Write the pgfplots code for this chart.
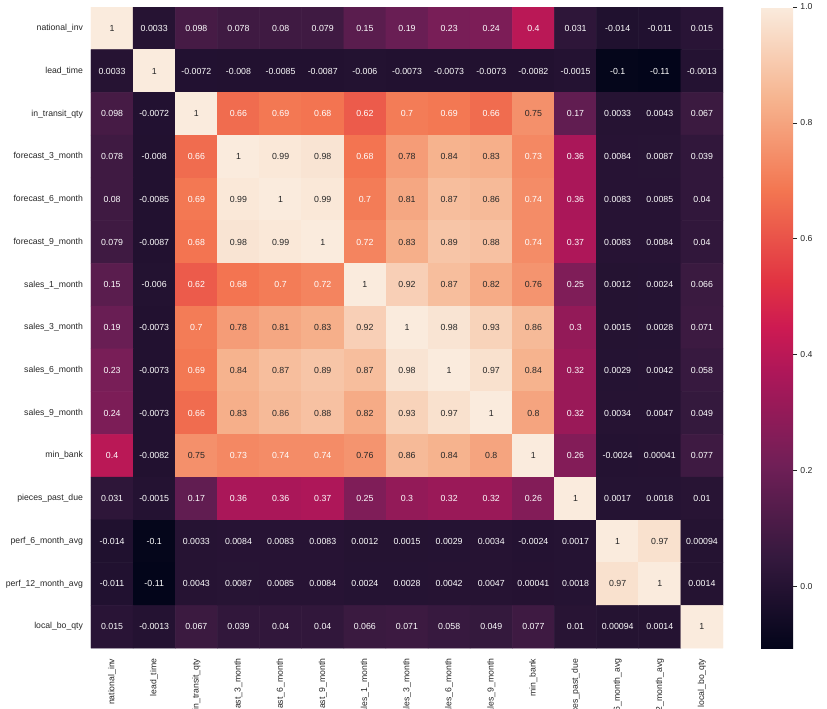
\documentclass[border=0pt]{standalone}
\usepackage{pgfplots}
\usepackage{pgfplotstable}
\pgfplotsset{compat=1.18}
\usepackage{fontspec}
\setmainfont{Liberation Sans}
\definecolor{txt}{HTML}{262626}
\pgfplotstableread[row sep=\\]{
x y v\\
0 0 1\\ 1 0 0.0033\\ 2 0 0.098\\ 3 0 0.078\\ 4 0 0.08\\ 5 0 0.079\\ 6 0 0.15\\ 7 0 0.19\\ 8 0 0.23\\ 9 0 0.24\\ 10 0 0.4\\ 11 0 0.031\\ 12 0 -0.014\\ 13 0 -0.011\\ 14 0 0.015\\
0 1 0.0033\\ 1 1 1\\ 2 1 -0.0072\\ 3 1 -0.008\\ 4 1 -0.0085\\ 5 1 -0.0087\\ 6 1 -0.006\\ 7 1 -0.0073\\ 8 1 -0.0073\\ 9 1 -0.0073\\ 10 1 -0.0082\\ 11 1 -0.0015\\ 12 1 -0.1\\ 13 1 -0.11\\ 14 1 -0.0013\\
0 2 0.098\\ 1 2 -0.0072\\ 2 2 1\\ 3 2 0.66\\ 4 2 0.69\\ 5 2 0.68\\ 6 2 0.62\\ 7 2 0.7\\ 8 2 0.69\\ 9 2 0.66\\ 10 2 0.75\\ 11 2 0.17\\ 12 2 0.0033\\ 13 2 0.0043\\ 14 2 0.067\\
0 3 0.078\\ 1 3 -0.008\\ 2 3 0.66\\ 3 3 1\\ 4 3 0.99\\ 5 3 0.98\\ 6 3 0.68\\ 7 3 0.78\\ 8 3 0.84\\ 9 3 0.83\\ 10 3 0.73\\ 11 3 0.36\\ 12 3 0.0084\\ 13 3 0.0087\\ 14 3 0.039\\
0 4 0.08\\ 1 4 -0.0085\\ 2 4 0.69\\ 3 4 0.99\\ 4 4 1\\ 5 4 0.99\\ 6 4 0.7\\ 7 4 0.81\\ 8 4 0.87\\ 9 4 0.86\\ 10 4 0.74\\ 11 4 0.36\\ 12 4 0.0083\\ 13 4 0.0085\\ 14 4 0.04\\
0 5 0.079\\ 1 5 -0.0087\\ 2 5 0.68\\ 3 5 0.98\\ 4 5 0.99\\ 5 5 1\\ 6 5 0.72\\ 7 5 0.83\\ 8 5 0.89\\ 9 5 0.88\\ 10 5 0.74\\ 11 5 0.37\\ 12 5 0.0083\\ 13 5 0.0084\\ 14 5 0.04\\
0 6 0.15\\ 1 6 -0.006\\ 2 6 0.62\\ 3 6 0.68\\ 4 6 0.7\\ 5 6 0.72\\ 6 6 1\\ 7 6 0.92\\ 8 6 0.87\\ 9 6 0.82\\ 10 6 0.76\\ 11 6 0.25\\ 12 6 0.0012\\ 13 6 0.0024\\ 14 6 0.066\\
0 7 0.19\\ 1 7 -0.0073\\ 2 7 0.7\\ 3 7 0.78\\ 4 7 0.81\\ 5 7 0.83\\ 6 7 0.92\\ 7 7 1\\ 8 7 0.98\\ 9 7 0.93\\ 10 7 0.86\\ 11 7 0.3\\ 12 7 0.0015\\ 13 7 0.0028\\ 14 7 0.071\\
0 8 0.23\\ 1 8 -0.0073\\ 2 8 0.69\\ 3 8 0.84\\ 4 8 0.87\\ 5 8 0.89\\ 6 8 0.87\\ 7 8 0.98\\ 8 8 1\\ 9 8 0.97\\ 10 8 0.84\\ 11 8 0.32\\ 12 8 0.0029\\ 13 8 0.0042\\ 14 8 0.058\\
0 9 0.24\\ 1 9 -0.0073\\ 2 9 0.66\\ 3 9 0.83\\ 4 9 0.86\\ 5 9 0.88\\ 6 9 0.82\\ 7 9 0.93\\ 8 9 0.97\\ 9 9 1\\ 10 9 0.8\\ 11 9 0.32\\ 12 9 0.0034\\ 13 9 0.0047\\ 14 9 0.049\\
0 10 0.4\\ 1 10 -0.0082\\ 2 10 0.75\\ 3 10 0.73\\ 4 10 0.74\\ 5 10 0.74\\ 6 10 0.76\\ 7 10 0.86\\ 8 10 0.84\\ 9 10 0.8\\ 10 10 1\\ 11 10 0.26\\ 12 10 -0.0024\\ 13 10 0.00041\\ 14 10 0.077\\
0 11 0.031\\ 1 11 -0.0015\\ 2 11 0.17\\ 3 11 0.36\\ 4 11 0.36\\ 5 11 0.37\\ 6 11 0.25\\ 7 11 0.3\\ 8 11 0.32\\ 9 11 0.32\\ 10 11 0.26\\ 11 11 1\\ 12 11 0.0017\\ 13 11 0.0018\\ 14 11 0.01\\
0 12 -0.014\\ 1 12 -0.1\\ 2 12 0.0033\\ 3 12 0.0084\\ 4 12 0.0083\\ 5 12 0.0083\\ 6 12 0.0012\\ 7 12 0.0015\\ 8 12 0.0029\\ 9 12 0.0034\\ 10 12 -0.0024\\ 11 12 0.0017\\ 12 12 1\\ 13 12 0.97\\ 14 12 0.00094\\
0 13 -0.011\\ 1 13 -0.11\\ 2 13 0.0043\\ 3 13 0.0087\\ 4 13 0.0085\\ 5 13 0.0084\\ 6 13 0.0024\\ 7 13 0.0028\\ 8 13 0.0042\\ 9 13 0.0047\\ 10 13 0.00041\\ 11 13 0.0018\\ 12 13 0.97\\ 13 13 1\\ 14 13 0.0014\\
0 14 0.015\\ 1 14 -0.0013\\ 2 14 0.067\\ 3 14 0.039\\ 4 14 0.04\\ 5 14 0.04\\ 6 14 0.066\\ 7 14 0.071\\ 8 14 0.058\\ 9 14 0.049\\ 10 14 0.077\\ 11 14 0.01\\ 12 14 0.00094\\ 13 14 0.0014\\ 14 14 1\\
}\corr
\begin{document}
\begin{tikzpicture}
\begin{axis}[
  name=main,
  at={(0,0)}, anchor=south west,
  scale only axis,
  width=474pt, height=480.75pt,
  xmin=-0.5, xmax=14.5, ymin=-0.5, ymax=14.5,
  enlargelimits=false,
  y dir=reverse,
  axis line style={draw=none},
  major tick length=0pt,
  tick style={draw=none},
  xtick={0,...,14}, ytick={0,...,14},
  xticklabels={national\_inv,lead\_time,in\_transit\_qty,forecast\_3\_month,forecast\_6\_month,forecast\_9\_month,sales\_1\_month,sales\_3\_month,sales\_6\_month,sales\_9\_month,min\_bank,pieces\_past\_due,perf\_6\_month\_avg,perf\_12\_month\_avg,local\_bo\_qty},
  yticklabels={national\_inv,lead\_time,in\_transit\_qty,forecast\_3\_month,forecast\_6\_month,forecast\_9\_month,sales\_1\_month,sales\_3\_month,sales\_6\_month,sales\_9\_month,min\_bank,pieces\_past\_due,perf\_6\_month\_avg,perf\_12\_month\_avg,local\_bo\_qty},
  xticklabel style={font=\fontsize{6.5}{7.5}\selectfont, text=txt, yshift=-4.5pt, rotate=90, anchor=east},
  yticklabel style={font=\fontsize{6.5}{7.5}\selectfont, text=txt, xshift=-2.5pt},
  colormap={rocket}{
    rgb255(0)=(3,5,26) rgb255(1)=(53,25,62) rgb255(2)=(112,31,87)
    rgb255(3)=(173,23,89) rgb255(3.5)=(205,26,82) rgb255(4)=(225,51,66)
    rgb255(5)=(243,118,81) rgb255(6)=(246,180,143) rgb255(7)=(250,235,221)},
  point meta min=-0.106, point meta max=1,
  colorbar,
  colorbar/width=24pt,
  colorbar style={
    at={(parent axis.north east)}, anchor=north west, xshift=20pt,
    scale only axis=true,
    height=480.75pt,
    ytick={0,0.2,0.4,0.6,0.8,1.0},
    ytick pos=right, yticklabel pos=right,
    axis line style={draw=none},
    major tick length=3pt, tick align=outside,
    tick style={draw=txt, line width=0.5pt},
    yticklabel style={font=\fontsize{6.5}{7.5}\selectfont, text=txt, xshift=-1pt,
      /pgf/number format/.cd, fixed, fixed zerofill, precision=1, assume math mode=true},
  },
]
\addplot[matrix plot*, mesh/cols=15, point meta=\thisrow{v}] table[x=x, y=y] {\corr};
\addplot[only marks, mark=none, point meta=explicit symbolic,
  nodes near coords, nodes near coords align={center},
  every node near coord/.append style={font=\fontsize{6.6}{7.5}\selectfont, text=txt, anchor=center},
  restrict expr to domain={\thisrow{v}}{0.745:2}] table[x=x, y=y, meta=v] {\corr};
\addplot[only marks, mark=none, point meta=explicit symbolic,
  nodes near coords, nodes near coords align={center},
  every node near coord/.append style={font=\fontsize{6.6}{7.5}\selectfont, text=white, anchor=center},
  restrict expr to domain={\thisrow{v}}{-1:0.745}] table[x=x, y=y, meta=v] {\corr};
\end{axis}
\pgfresetboundingbox
\path (main.south west) ++(-68.25pt,-45pt) rectangle ++(620.25pt,531pt);
\end{tikzpicture}
\end{document}
